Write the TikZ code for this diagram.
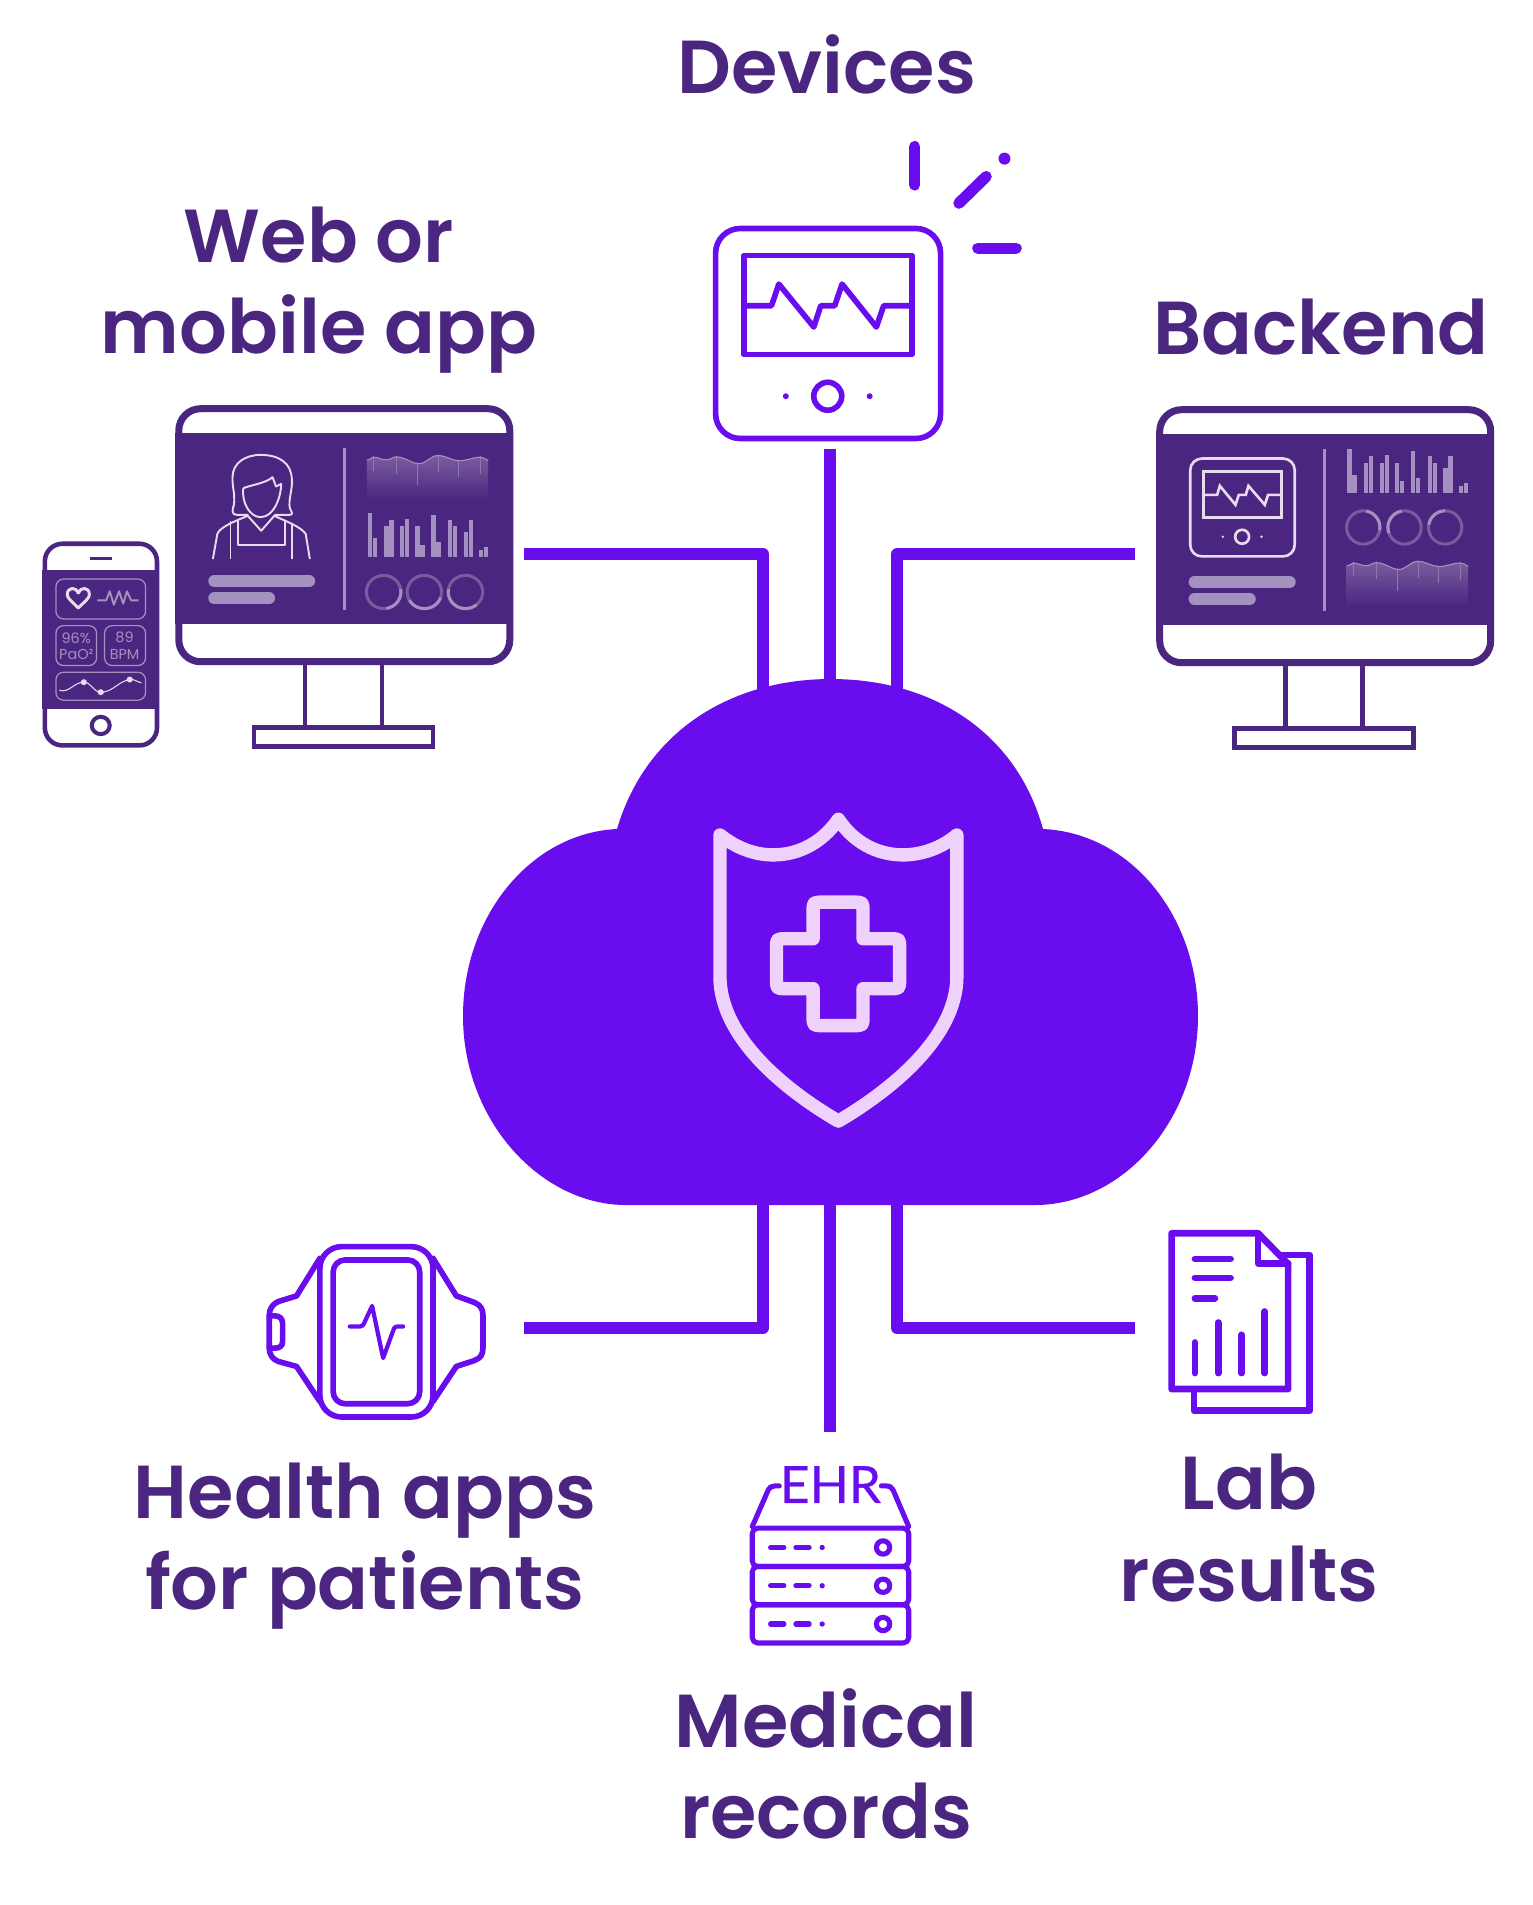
\documentclass[tikz,border=0pt]{standalone}
\usepackage{fontspec}
\newfontfamily\headfont{Poppins SemiBold}
\newfontfamily\smallfont{Poppins}
\newfontfamily\ehrfont{Lato}[FakeBold=0.5]
\usepackage{xcolor}
\usepackage{tikz}
\usetikzlibrary{positioning,calc}
\definecolor{vivid}{HTML}{690DEE}
\definecolor{plum}{HTML}{4B2680}
\definecolor{soft}{HTML}{A591BF}
\definecolor{pale}{HTML}{E6DCEE}
\definecolor{dim}{HTML}{7A5C9E}
\definecolor{blush}{HTML}{EED2FB}
\tikzset{
	px/.style={x=0.01cm,y=-0.01cm},
	zoomed/.style={x=0.003333cm,y=-0.003333cm},
	wide/.style={x=0.003444cm,y=-0.003333cm},
	link/.style={draw=vivid,line width=3.4pt,line join=round},
	heading/.style={font=\headfont\fontsize{21.35}{25.9}\selectfont,text=plum,align=center,inner sep=0pt},
	tiny/.style={font=\smallfont\fontsize{4.1}{5}\selectfont,text=soft,inner sep=0pt},
	icon/.style={draw=vivid,line join=round,line cap=round,line width=1.6pt},
	rack/.style={icon,line width=1.45pt},
	pen/.style={draw=pale,line join=round,line width=0.55pt},
	card/.style={draw=soft,line width=0.35pt,rounded corners=2.2pt}
}
\newcommand{\monitorframe}{
	\draw[plum,line width=2pt,rounded corners=6.2pt] (0,0) rectangle (331,253);
	\fill[plum] (-3.5,24) rectangle (334.5,215);
	\draw[plum,line width=1.3pt] (126,256) -- (126,319);
	\draw[plum,line width=1.3pt] (203,256) -- (203,319);
	\draw[plum,line width=1.3pt] (75,319) rectangle (254,338);
}
\newcommand{\barchart}{
	\foreach \bx/\bh in {0/132,15/56,50/92,65/112,97/92,112/115,143/92,158/37,191/126,206/46,241/112,256/92,288/75,303/112,334/22,349/30}
		\fill[soft] (\bx-6.5,0) rectangle (\bx+6.5,-\bh);
}
\newcommand{\areatop}{(0,8) to[out=-20,in=180] (20,0) to[out=0,in=180] (59,8) to[out=0,in=180] (89,-1) to[out=0,in=170] (152,19) to[out=-10,in=180] (214,-5) to[out=0,in=175] (274,10) to[out=-5,in=180] (341,0) to[out=0,in=150] (365,10)}
\newcommand{\areachart}{
	\shade[top color=dim,middle color=dim,bottom color=plum] \areatop -- (365,130) -- (0,130) -- cycle;
	\draw[soft,line width=0.3pt] \areatop;
	\foreach \pinx/\piny/\pind in {20/0/40,89/-1/50,152/19/65,214/-5/50,274/10/50,341/0/50}{
		\draw[dim!50!soft,line width=0.1pt] (\pinx,\piny) -- ++(0,\pind);
		\fill[soft] (\pinx,\piny) circle[radius=3];
	}
}
\newcommand{\ring}[4]{
	\draw[dim,line width=0.85pt] (#1,#2) circle[radius=50];
	\draw[soft,line width=0.85pt] (#1,#2) ++(#3:50) arc[start angle=#3,end angle=#4,radius=50];
}
\begin{document}
\begin{tikzpicture}[px]
\useasboundingbox (0,0) rectangle (1533,1905);

\coordinate (webtap) at (524,554);
\coordinate (devicetap) at (830,449);
\coordinate (backendtap) at (1135,554);
\coordinate (healthtap) at (524,1328);
\coordinate (recordstap) at (830,1432);
\coordinate (labtap) at (1135,1328);
\coordinate (cloudnw) at (763,720);
\coordinate (cloudn) at (830,720);
\coordinate (cloudne) at (897,720);
\coordinate (cloudsw) at (763,1190);
\coordinate (clouds) at (830,1190);
\coordinate (cloudse) at (897,1190);

\draw[link] (webtap) -| (cloudnw);
\draw[link] (devicetap) -- (cloudn);
\draw[link] (backendtap) -| (cloudne);
\draw[link] (healthtap) -| (cloudsw);
\draw[link] (recordstap) -- (clouds);
\draw[link] (labtap) -| (cloudse);

\fill[vivid] (617,829) .. controls (646,731) and (731,679) .. (831,679) .. controls (931,679) and (1016,731) .. (1043,829) .. controls (1131,833) and (1198,916) .. (1198,1016) .. controls (1198,1121) and (1122,1205) .. (1035,1205) -- (626,1205) .. controls (541,1205) and (463,1121) .. (463,1016) .. controls (463,916) and (531,833) .. (617,829) -- cycle;

\begin{scope}[shift={(680,780)},zoomed]
	\draw[blush,line width=3.8pt,line join=round] (120,165) .. controls (170,205) and (225,225) .. (280,225) .. controls (360,225) and (430,185) .. (476,118) .. controls (520,185) and (590,225) .. (670,225) .. controls (725,225) and (785,205) .. (832,165) -- (832,590) .. controls (832,780) and (620,940) .. (476,1025) .. controls (330,940) and (120,780) .. (120,590) -- cycle;
	\draw[blush,line width=3.8pt,line join=round] (400,477) -- (400,395) .. controls (400,367) .. (428,367) -- (522,367) .. controls (550,367) .. (550,395) -- (550,477) -- (632,477) .. controls (660,477) .. (660,505) -- (660,599) .. controls (660,627) .. (632,627) -- (550,627) -- (550,710) .. controls (550,738) .. (522,738) -- (428,738) .. controls (400,738) .. (400,710) -- (400,627) -- (318,627) .. controls (290,627) .. (290,599) -- (290,505) .. controls (290,477) .. (318,477) -- cycle;
\end{scope}

\begin{scope}[shift={(680,120)},zoomed]
	\draw[icon,rounded corners=7pt] (107,326) rectangle (783,957);
	\draw[icon] (192,407) rectangle (697,705);
	\draw[icon] (192,558) -- (275,558) -- (297,493) -- (402,622) -- (423,558) -- (465,558) -- (487,493) -- (590,622) -- (612,558) -- (697,558);
	\draw[icon] (444,830) circle[radius=42];
	\fill[vivid] (318,830) circle[radius=9];
	\fill[vivid] (570,830) circle[radius=9];
	\draw[icon,line width=3.2pt] (705,80) -- (705,195);
	\draw[icon,line width=3.2pt] (920,170) -- (838,250);
	\fill[vivid] (975,116) circle[radius=18];
	\draw[icon,line width=3.2pt] (895,385) -- (1010,385);
\end{scope}

\begin{scope}[shift={(240,1220)},zoomed]
	\draw[icon,rounded corners=6.2pt] (240,80) rectangle (580,592);
	\draw[icon,rounded corners=3.4pt] (280,120) rectangle (540,552);
	\draw[icon] (240,115) -- (170,228) -- (115,245) .. controls (98,252) and (88,268) .. (88,285) -- (88,385) .. controls (88,405) and (98,418) .. (115,425) -- (170,440) -- (240,545);
	\draw[icon] (88,288) -- (105,288) .. controls (120,288) and (128,298) .. (128,310) -- (128,365) .. controls (128,378) and (120,385) .. (105,385) -- (88,385);
	\draw[icon] (580,115) -- (650,228) -- (705,248) .. controls (722,255) and (730,268) .. (730,285) -- (730,385) .. controls (730,405) and (722,415) .. (705,422) -- (650,440) -- (580,545);
	\draw[icon,line width=1.2pt] (330,320) -- (360,320) .. controls (368,320) and (370,315) .. (372,312) -- (397,258) -- (430,415) -- (463,325) .. controls (466,320) and (470,320) .. (475,320) -- (490,320);
\end{scope}

\begin{scope}[shift={(720,1420)},zoomed]
	\node[font=\ehrfont\fontsize{14.6}{16}\selectfont,text=vivid,inner sep=0pt] (ehr) at (332,194) {EHR};
	\draw[rack] (178,198) -- (165,198) .. controls (155,198) and (148,203) .. (145,210) -- (97,320);
	\draw[rack] (485,198) -- (498,198) .. controls (510,198) and (517,203) .. (520,210) -- (567,320);
	\foreach \rackt in {325,440,555}{
		\draw[rack,rounded corners=1.5pt] (97,\rackt) rectangle (567,\rackt+115);
		\draw[rack] (152,\rackt+58) -- (192,\rackt+58);
		\draw[rack] (228,\rackt+58) -- (268,\rackt+58);
		\fill[vivid] (307,\rackt+58) circle[radius=8];
		\draw[rack] (490,\rackt+58) circle[radius=20];
	}
\end{scope}

\begin{scope}[shift={(1140,1210)},zoomed]
	\draw[icon,line width=1.9pt] (425,135) -- (510,135) -- (510,603) -- (162,603) -- (162,540);
	\draw[icon,line width=1.9pt] (95,70) -- (355,70) -- (445,162) -- (445,538) -- (95,538) -- cycle;
	\draw[icon,line width=1.9pt] (355,70) -- (355,160) -- (445,160);
	\draw[icon,line width=1.9pt] (165,147) -- (272,147);
	\draw[icon,line width=1.9pt] (165,204) -- (272,204);
	\draw[icon,line width=1.9pt] (165,265) -- (225,265);
	\foreach \colx/\coly in {165/398,235/338,305/375,375/305}
		\draw[icon,line width=1.9pt] (\colx,\coly) -- (\colx,490);
\end{scope}

\begin{scope}[shift={(178.8,408.7)}]
	\monitorframe
\end{scope}
\begin{scope}[shift={(0,380)},wide]
	\draw[soft,line width=0.7pt] (999,205) -- (999,692);
	\draw[pen] (720,405) -- (685,405) .. controls (672,405) and (672,390) .. (678,375) .. controls (682,340) and (672,320) .. (674,290) .. controls (675,250) and (710,225) .. (755,225) .. controls (810,225) and (845,250) .. (846,300) .. controls (848,330) and (835,360) .. (840,385) .. controls (848,400) and (848,405) .. (840,405) -- (795,405);
	\draw[pen] (705,325) .. controls (730,315) and (770,310) .. (790,292) -- (800,320) -- (815,312) .. controls (815,350) and (795,412) .. (755,412) .. controls (725,412) and (700,370) .. (705,325);
	\draw[pen] (617,538) -- (630,462) .. controls (640,440) and (680,425) .. (718,408) -- (757,453) -- (795,408) .. controls (830,425) and (870,440) .. (886,462) -- (898,538);
	\draw[pen] (668,538) -- (668,425);
	\draw[pen] (690,420) -- (690,497) -- (825,497) -- (825,420);
	\draw[pen] (845,538) -- (845,430);
	\draw[soft,line width=3.4pt,line cap=round] (621,604) -- (896,604);
	\draw[soft,line width=3.4pt,line cap=round] (621,656) -- (780,656);
	\begin{scope}[shift={(1063,232)},zoomed]
		\areachart
	\end{scope}
	\begin{scope}[shift={(1072,532)},zoomed]
		\barchart
	\end{scope}
	\ring{1112}{637}{-10}{80}
	\ring{1230}{637}{20}{150}
	\ring{1349}{637}{50}{190}
\end{scope}

\begin{scope}[shift={(1159.7,409.7)}]
	\monitorframe
\end{scope}
\begin{scope}[shift={(1120,380)},zoomed]
	\draw[soft,line width=0.7pt] (615,207) -- (615,695);
	\draw[pale,line width=0.75pt,rounded corners=3.3pt] (211,236) rectangle (525,530);
	\draw[pale,line width=0.75pt] (250,274) rectangle (485,413);
	\draw[pale,line width=0.75pt] (250,345) -- (292,345) -- (300,318) -- (347,375) -- (357,345) -- (378,345) -- (386,318) -- (435,375) -- (445,345) -- (485,345);
	\draw[pale,line width=0.75pt] (367,471) circle[radius=21];
	\fill[pale] (309,471) circle[radius=4];
	\fill[pale] (425,471) circle[radius=4];
	\draw[soft,line width=3.4pt,line cap=round] (224,607) -- (510,607);
	\draw[soft,line width=3.4pt,line cap=round] (224,658) -- (390,658);
	\begin{scope}[shift={(690,340)}]
		\barchart
	\end{scope}
	\ring{731}{443}{-80}{10}
	\ring{855}{443}{-100}{-200}
	\ring{977}{443}{-90}{-170}
	\begin{scope}[shift={(681,550)}]
		\areachart
	\end{scope}
\end{scope}

\begin{scope}[shift={(0,380)},wide]
	\draw[plum,line width=1.3pt,rounded corners=5pt] (130,492) rectangle (455,1098);
	\fill[plum] (123,570) rectangle (462,988);
	\draw[plum,line width=1pt] (262,537) -- (324,537);
	\draw[plum,line width=1.15pt] (292,1038) circle[radius=26];
	\draw[card] (162,598) rectangle (422,718);
	\draw[card] (162,738) rectangle (280,858);
	\draw[card] (303,738) rectangle (422,858);
	\draw[card] (162,878) rectangle (422,962);
	\draw[pale,line width=0.85pt,line join=round] (227,685) .. controls (205,662) and (195,655) .. (195,645) .. controls (195,620) and (222,622) .. (227,640) .. controls (232,622) and (259,620) .. (259,645) .. controls (259,655) and (249,662) .. (227,685) -- cycle;
	\draw[soft,line width=0.55pt,line join=round] (282,662) -- (308,662) -- (318,635) -- (330,675) -- (345,635) -- (357,672) -- (368,635) -- (380,662) -- (402,662);
	\node[tiny] (oxyvalue) at (221,775) {96\%};
	\node[tiny] (oxyunit) at (221,825) {PaO²};
	\node[tiny] (bpmvalue) at (361,773) {89};
	\node[tiny] (bpmunit) at (361,826) {BPM};
	\draw[pale,line width=0.3pt] (172,932) to[out=-20,in=180] (243,908) to[out=0,in=180] (292,938) to[out=0,in=190] (376,900) to[out=10,in=170] (410,910);
	\fill[pale] (243,908) circle[radius=9];
	\fill[pale] (292,938) circle[radius=9];
	\fill[pale] (376,900) circle[radius=9];
\end{scope}

\node[heading] (deviceslabel) at (827,64) {Devices};
\node[heading] (weblabel) at (319,290) {Web or\\mobile app};
\node[heading] (backendlabel) at (1321,327) {Backend};
\node[heading] (healthlabel) at (365,1546) {Health apps\\for patients};
\node[heading] (recordslabel) at (826,1764) {Medical\\records};
\node[heading] (lablabel) at (1249,1528) {Lab\\results};
\end{tikzpicture}
\end{document}
